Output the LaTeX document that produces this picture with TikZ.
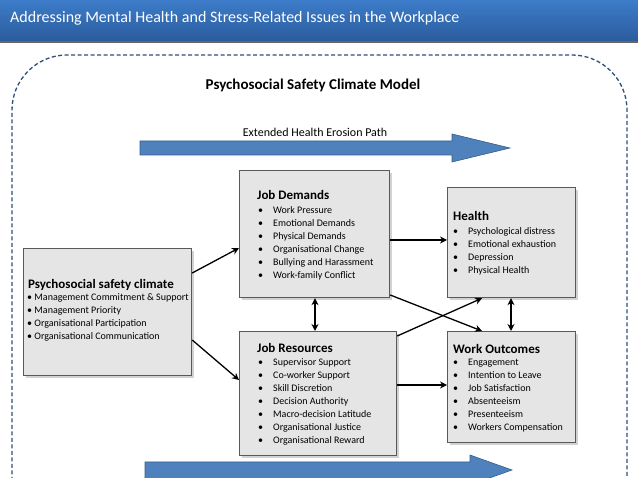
\documentclass[tikz,border=0pt]{standalone}
\usepackage{fontspec}
\setmainfont{Carlito}
\usetikzlibrary{shadows,arrows.meta}
\definecolor{hdrtop}{HTML}{3D7CC9}
\definecolor{hdrbot}{HTML}{2A5B9C}
\definecolor{arrowblue}{HTML}{4F81BD}
\definecolor{arrowedge}{HTML}{385D8A}
\definecolor{framecol}{HTML}{2F4F7A}
\begin{document}
\begin{tikzpicture}[x=1pt,y=-1pt,
  box/.style={draw=black!65,line width=1.2pt,fill=black!10,drop shadow={opacity=0.35},anchor=north west,inner sep=0},
  head/.style={anchor=base west,inner sep=0,font=\fontsize{13}{15}\selectfont\bfseries},
  items/.style={anchor=north west,inner sep=0,align=left,font=\fontsize{10}{13}\selectfont},
  conn/.style={-{Stealth[length=7pt,width=7pt]},line width=1.3pt},
  bconn/.style={{Stealth[length=7pt,width=7pt]}-{Stealth[length=7pt,width=7pt]},line width=1.3pt},
  bigarrow/.style={fill=arrowblue,draw=arrowedge,line width=0.6pt}]
\useasboundingbox (0,0) rectangle (638,478);
\fill[white] (0,0) rectangle (638,478);
% header
\shade[top color=hdrtop,bottom color=hdrbot] (0,0) rectangle (638,42);
\draw[black!60,line width=1.5pt] (0,42) -- (638,42);
\node[anchor=base west,inner sep=0,text=white,font=\fontsize{16}{18}\selectfont] (hdr) at (10,23) {Addressing Mental Health and Stress-Related Issues in the Workplace};
% dashed frame
\draw[framecol,line width=1.3pt,dash pattern=on 4pt off 2.5pt,rounded corners=55pt] (12,520) -- (12,55) -- (627,55) -- (627,520);
\node[anchor=base,inner sep=0,font=\fontsize{15}{17}\selectfont\bfseries] (ttl) at (313,90) {Psychosocial Safety Climate Model};
\node[anchor=base,inner sep=0,font=\fontsize{12}{14}\selectfont] (ehp) at (315,137) {Extended Health Erosion Path};
\filldraw[bigarrow] (140,141) -- (452,141) -- (452,134) -- (510,148) -- (452,162) -- (452,155) -- (140,155) -- cycle;
\filldraw[bigarrow] (145,462) -- (470,462) -- (470,455) -- (512,470) -- (470,485) -- (470,480) -- (145,480) -- cycle;
% boxes
\node[box,minimum width=168pt,minimum height=127pt] (psc) at (23,248) {};
\node[box,minimum width=150pt,minimum height=127pt] (jd) at (239,170) {};
\node[box,minimum width=128pt,minimum height=110pt] (hl) at (447,187) {};
\node[box,minimum width=157pt,minimum height=124pt] (jr) at (239,331) {};
\node[box,minimum width=128pt,minimum height=111pt] (wo) at (447,331) {};
% texts
\node[head] (pscT) at (28,289) {Psychosocial safety climate};
\node[items,font=\fontsize{10}{13.3}\selectfont] (pscL) at (27,293) {• Management Commitment \& Support\\• Management Priority\\• Organisational Participation\\• Organisational Communication};
\node[head] (jdT) at (257,200) {Job Demands};
\node[items] (jdL) at (258,206) {•\quad Work Pressure\\•\quad Emotional Demands\\•\quad Physical Demands\\•\quad Organisational Change\\•\quad Bullying and Harassment\\•\quad Work-family Conflict};
\node[head] (hlT) at (453,221) {Health};
\node[items] (hlL) at (453,227) {•\quad Psychological distress\\•\quad Emotional exhaustion\\•\quad Depression\\•\quad Physical Health};
\node[head] (jrT) at (257,353) {Job Resources};
\node[items] (jrL) at (258,358) {•\quad Supervisor Support\\•\quad Co-worker Support\\•\quad Skill Discretion\\•\quad Decision Authority\\•\quad Macro-decision Latitude\\•\quad Organisational Justice\\•\quad Organisational Reward};
\node[head] (woT) at (453,354) {Work Outcomes};
\node[items] (woL) at (453,359) {•\quad Engagement\\•\quad Intention to Leave\\•\quad Job Satisfaction\\•\quad Absenteeism\\•\quad Presenteeism\\•\quad Workers Compensation};
% connectors
\draw[conn] (psc.north east |- 0,273) -- (jd.south west |- 0,248);
\draw[conn] (psc.north east |- 0,340) -- (jr.north west |- 0,380);
\draw[conn] (jd.east |- 0,240) -- (hl.west |- 0,240);
\draw[conn] (jr.east |- 0,385) -- (wo.west |- 0,385);
\draw[bconn] (jd.south -| 315,0) -- (jr.north -| 315,0);
\draw[bconn] (hl.south -| 511,0) -- (wo.north -| 511,0);
\draw[conn] (jd.south east |- 0,295) -- (wo.north -| 482,0);
\draw[conn] (jr.north east |- 0,336) -- (hl.south -| 482,0);
\end{tikzpicture}
\end{document}
